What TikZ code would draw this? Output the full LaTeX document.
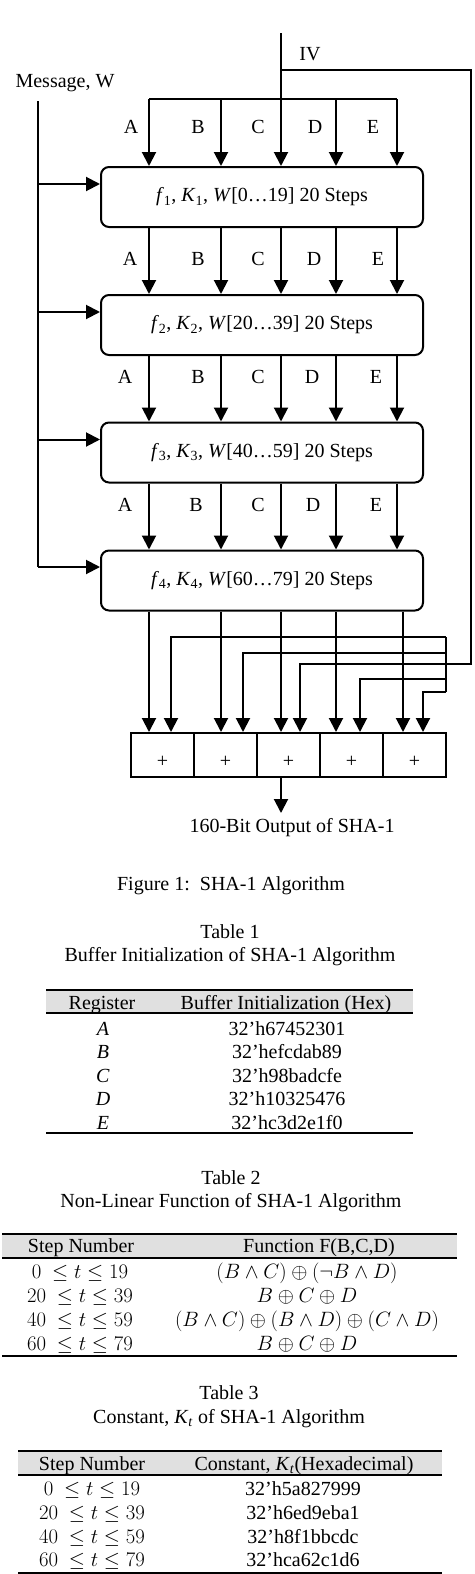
\documentclass[tikz,border=0pt]{standalone}
\usepackage{fontspec}
\setmainfont{Liberation Serif}
\usetikzlibrary{arrows.meta}

\begin{document}
\begin{tikzpicture}[x=1pt,y=-1pt]
\tikzset{
stepbox/.style={draw,line width=2pt,rounded corners=8pt,minimum width=322pt,minimum height=60pt,inner sep=0pt},
adder/.style={draw,line width=2pt,minimum width=63pt,minimum height=44pt,inner sep=0pt,text height=24pt,text depth=0pt},
lbl/.style={inner sep=0pt},
cell/.style={inner sep=0pt,anchor=base},
wire/.style={line width=2pt},
arr/.style={wire,-{Triangle[width=14pt,length=14pt]}},
rule/.style={line width=1.6pt},
font={\fontsize{20pt}{24pt}\selectfont}
}
\useasboundingbox (0,0) rectangle (474,1574);

% register columns
\coordinate (cA) at (149,0);
\coordinate (cB) at (221,0);
\coordinate (cC) at (281,0);
\coordinate (cD) at (336,0);
\coordinate (cE) at (397,0);
\coordinate (oE) at (403,0);
% second adder inputs
\coordinate (k1) at (171,0);
\coordinate (k2) at (243,0);
\coordinate (k3) at (300,0);
\coordinate (k4) at (360,0);
\coordinate (k5) at (423,0);

\node[stepbox] (S1) at (262,197) {\textit{f}\textsubscript{1}, \textit{K}\textsubscript{1}, \textit{W}[0…19] 20 Steps};
\node[stepbox] (S2) at (262,325) {\textit{f}\textsubscript{2}, \textit{K}\textsubscript{2}, \textit{W}[20…39] 20 Steps};
\node[stepbox] (S3) at (262,452.5) {\textit{f}\textsubscript{3}, \textit{K}\textsubscript{3}, \textit{W}[40…59] 20 Steps};
\node[stepbox] (S4) at (262,580.5) {\textit{f}\textsubscript{4}, \textit{K}\textsubscript{4}, \textit{W}[60…79] 20 Steps};

\node[adder] (P1) at (162.5,755) {+};
\node[adder] (P2) at (225.5,755) {+};
\node[adder] (P3) at (288.5,755) {+};
\node[adder] (P4) at (351.5,755) {+};
\node[adder] (P5) at (414.5,755) {+};

% inputs
\node[cell] (msgl) at (65,87) {Message, W};
\node[cell] (ivl) at (310,60) {IV};
\coordinate (ivtop) at (281,33);
\coordinate (busL) at (149,99);
\coordinate (busR) at (397,99);
\coordinate (msg) at (38,101);
\coordinate (msgend) at (38,567);
\coordinate (m1) at ([yshift=13pt]S1.west);
\coordinate (m2) at ([yshift=13pt]S2.west);
\coordinate (m3) at ([yshift=13pt]S3.west);
\coordinate (m4) at ([yshift=13pt]S4.west);

% labels
\node[lbl] (a0) at (131,127) {A};
\node[lbl] (b0) at (198,127) {B};
\node[lbl] (c0) at (258,127) {C};
\node[lbl] (d0) at (315,127) {D};
\node[lbl] (e0) at (373,127) {E};
\node[lbl] (a1) at (130,259) {A};
\node[lbl] (b1) at (198,259) {B};
\node[lbl] (c1) at (258,259) {C};
\node[lbl] (d1) at (314,259) {D};
\node[lbl] (e1) at (378,259) {E};
\node[lbl] (a2) at (125,377) {A};
\node[lbl] (b2) at (198,377) {B};
\node[lbl] (c2) at (258,377) {C};
\node[lbl] (d2) at (312,377) {D};
\node[lbl] (e2) at (376,377) {E};
\node[lbl] (a3) at (125,505) {A};
\node[lbl] (b3) at (196,505) {B};
\node[lbl] (c3) at (258,505) {C};
\node[lbl] (d3) at (313,505) {D};
\node[lbl] (e3) at (376,505) {E};

\draw[wire] (busL) -- (busR);
\draw[arr] (ivtop) -- (S1.north -| cC);
\path[arr]
 (busL) edge (S1.north -| cA)
 (busL -| cB) edge (S1.north -| cB)
 (busL -| cD) edge (S1.north -| cD)
 (busR) edge (S1.north -| cE)

 (S1.south -| cA) edge (S2.north -| cA)
 (S1.south -| cB) edge (S2.north -| cB)
 (S1.south -| cC) edge (S2.north -| cC)
 (S1.south -| cD) edge (S2.north -| cD)
 (S1.south -| cE) edge (S2.north -| cE)

 (S2.south -| cA) edge (S3.north -| cA)
 (S2.south -| cB) edge (S3.north -| cB)
 (S2.south -| cC) edge (S3.north -| cC)
 (S2.south -| cD) edge (S3.north -| cD)
 (S2.south -| cE) edge (S3.north -| cE)

 (S3.south -| cA) edge (S4.north -| cA)
 (S3.south -| cB) edge (S4.north -| cB)
 (S3.south -| cC) edge (S4.north -| cC)
 (S3.south -| cD) edge (S4.north -| cD)
 (S3.south -| cE) edge (S4.north -| cE)

 (S4.south -| cA) edge (P1.north -| cA)
 (S4.south -| cB) edge (P2.north -| cB)
 (S4.south -| cC) edge (P3.north -| cC)
 (S4.south -| cD) edge (P4.north -| cD)
 (S4.south -| oE) edge (P5.north -| oE)
;

% message words
\draw[wire] (msg) -- (msgend);
\path[arr]
 (msg |- m1) edge (m1)
 (msg |- m2) edge (m2)
 (msg |- m3) edge (m3)
 (msgend) edge (msgend -| S4.west)
;

% feedback of IV to the adders
\coordinate (fbR) at (471,70);
\coordinate (fbB) at (471,664);
\coordinate (bus1) at (446,637);
\coordinate (bus2) at (446,692);
\draw[arr] (cC |- fbR) -- (fbR) -- (fbB) -| (P3.north -| k3);
\draw[wire] (bus1) -- (bus2);
\draw[arr] (bus1) -| (P1.north -| k1);
\draw[arr] (bus1 |- 0,653) -| (P2.north -| k2);
\draw[arr] (bus1 |- 0,679) -| (P4.north -| k4);
\draw[arr] (bus2) -| (P5.north -| k5);

% output
\node[lbl,inner ysep=5pt,anchor=north] (outl) at (292,813) {160-Bit Output of SHA-1};
\draw[arr] (P3.south -| cC) -- (outl.north -| cC);

\node[cell] (fig) at (231,890) {Figure 1:\ \ SHA-1 Algorithm};

% Table 1
\node[cell] (t1n) at (230,938) {Table 1};
\node[cell] (t1c) at (230,961) {Buffer Initialization of SHA-1 Algorithm};
\fill[black!12] (46,990) rectangle (413,1013);
\draw[rule] (46,990) -- (413,990);
\draw[rule] (46,1013) -- (413,1013);
\draw[rule] (46,1133) -- (413,1133);
\node[cell] (t1h1) at (102,1009) {Register};
\node[cell] (t1h2) at (286,1009) {Buffer Initialization (Hex)};
\node[cell] (t1a) at (103,1035) {\textit{A}};
\node[cell] (t1b) at (103,1058.5) {\textit{B}};
\node[cell] (t1cc) at (103,1082) {\textit{C}};
\node[cell] (t1d) at (103,1105.5) {\textit{D}};
\node[cell] (t1e) at (103,1129) {\textit{E}};
\node[cell] (t1va) at (287,1035) {32’h67452301};
\node[cell] (t1vb) at (287,1058.5) {32’hefcdab89};
\node[cell] (t1vc) at (287,1082) {32’h98badcfe};
\node[cell] (t1vd) at (287,1105.5) {32’h10325476};
\node[cell] (t1ve) at (287,1129) {32’hc3d2e1f0};

% Table 2
\node[cell] (t2n) at (231,1184) {Table 2};
\node[cell] (t2c) at (231,1207) {Non-Linear Function of SHA-1 Algorithm};
\fill[black!12] (2,1234) rectangle (457,1258);
\draw[rule] (2,1234) -- (457,1234);
\draw[rule] (2,1258) -- (457,1258);
\draw[rule] (2,1356) -- (457,1356);
\node[cell] (t2h1) at (81,1252) {Step Number};
\node[cell] (t2h2) at (319,1252) {Function F(B,C,D)};
\node[cell] (t2s1) at (80,1278) {$0\ \leq t\leq 19$};
\node[cell] (t2s2) at (80,1302) {$20\ \leq t\leq 39$};
\node[cell] (t2s3) at (80,1326) {$40\ \leq t\leq 59$};
\node[cell] (t2s4) at (80,1350) {$60\ \leq t\leq 79$};
\node[cell] (t2f1) at (307,1278) {$(B\wedge C)\oplus(\neg B\wedge D)$};
\node[cell] (t2f2) at (307,1302) {$B\oplus C\oplus D$};
\node[cell] (t2f3) at (307,1326) {$(B\wedge C)\oplus(B\wedge D)\oplus(C\wedge D)$};
\node[cell] (t2f4) at (307,1350) {$B\oplus C\oplus D$};

% Table 3
\node[cell] (t3n) at (229,1399) {Table 3};
\node[cell] (t3c) at (229,1423) {Constant, \textit{K}\textsubscript{\textit{t}} of SHA-1 Algorithm};
\fill[black!12] (18,1451) rectangle (442,1475);
\draw[rule] (18,1451) -- (442,1451);
\draw[rule] (18,1475) -- (442,1475);
\draw[rule] (18,1573) -- (442,1573);
\node[cell] (t3h1) at (92,1470) {Step Number};
\node[cell] (t3h2) at (304,1470) {Constant, \textit{K}\textsubscript{\textit{t}}(Hexadecimal)};
\node[cell] (t3s1) at (92,1495) {$0\ \leq t\leq 19$};
\node[cell] (t3s2) at (92,1519) {$20\ \leq t\leq 39$};
\node[cell] (t3s3) at (92,1543) {$40\ \leq t\leq 59$};
\node[cell] (t3s4) at (92,1566) {$60\ \leq t\leq 79$};
\node[cell] (t3k1) at (303,1495) {32’h5a827999};
\node[cell] (t3k2) at (303,1519) {32’h6ed9eba1};
\node[cell] (t3k3) at (303,1543) {32’h8f1bbcdc};
\node[cell] (t3k4) at (303,1566) {32’hca62c1d6};
\end{tikzpicture}
\end{document}
